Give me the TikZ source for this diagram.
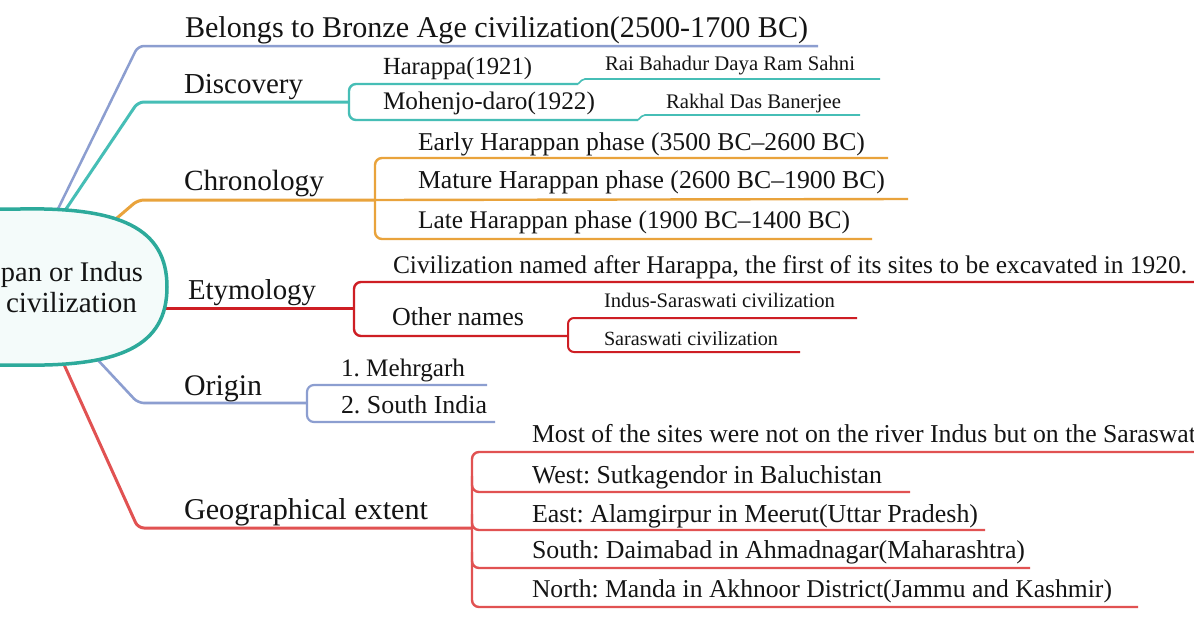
\documentclass[tikz,border=0pt]{standalone}
\usepackage{fontspec}
\setmainfont{Liberation Serif}
\usepackage{graphicx}
\frenchspacing
\definecolor{blueC}{RGB}{140,158,208}
\definecolor{tealC}{RGB}{70,190,182}
\definecolor{tealB}{RGB}{45,170,155}
\definecolor{orangeC}{RGB}{233,163,60}
\definecolor{etyC}{RGB}{206,30,36}
\definecolor{geoC}{RGB}{225,82,82}
\definecolor{txt}{RGB}{20,20,20}
\definecolor{fillC}{RGB}{244,251,250}
\newcommand{\fitw}[2]{\resizebox{#1pt}{!}{#2}}
\tikzset{
 lbl/.style={anchor=base west, inner sep=0pt, outer sep=0pt, text=txt},
 br/.style={line width=3pt, rounded corners=6pt},
 sub/.style={line width=2.4pt, rounded corners=7pt},
 leaf/.style={line width=1.6pt, rounded corners=2pt},
}
\begin{document}
\begin{tikzpicture}[x=1pt,y=-1pt]
\useasboundingbox (0,0) rectangle (1194,627);
\clip (0,0) rectangle (1194,627);
\fill[white] (0,0) rectangle (1194,627);

% ---------- Belongs (blue)
\coordinate (b0) at (55,215); \coordinate (b1) at (138,46); \coordinate (b2) at (818,46);
\draw[br, blueC, line width=2.5pt] (b0) -- (b1) -- (b2);

% ---------- Discovery (teal)
\coordinate (t0) at (62,215); \coordinate (t1) at (138,102); \coordinate (t2) at (349,102);
\coordinate (th) at (349,84); \coordinate (tm) at (349,120);
\coordinate (h0) at (578,84); \coordinate (h1) at (583,79); \coordinate (h2) at (880,79);
\coordinate (m0) at (638,120); \coordinate (m1) at (643,115); \coordinate (m2) at (860,115);
\draw[br, tealC] (t0) -- (t1) -- (t2);
\draw[sub, tealC] (h0) -- (th) -- (tm) -- (m0);
\draw[leaf, tealC] (h0) -- (h1) -- (h2);
\draw[leaf, tealC] (m0) -- (m1) -- (m2);

% ---------- Chronology (orange)
\coordinate (c0) at (110,224); \coordinate (c1) at (138,200); \coordinate (c2) at (375,200);
\coordinate (ct) at (375,158); \coordinate (cb) at (375,239);
\coordinate (ce) at (888,158); \coordinate (cm) at (908,199); \coordinate (cl) at (872,239);
\draw[br, orangeC] (c0) -- (c1) -- (c2);
\draw[sub, orangeC] (ce) -- (ct) -- (cb) -- (cl);
\draw[sub, orangeC] (c2) -- (cm);

% ---------- Etymology (dark red)
\coordinate (e0) at (160,308); \coordinate (e1) at (354,308);
\coordinate (et) at (354,282); \coordinate (eb) at (354,336);
\coordinate (ee) at (1200,282); \coordinate (eo) at (568,336);
\coordinate (st) at (568,318); \coordinate (sb) at (568,352);
\coordinate (se) at (857,318); \coordinate (ss) at (800,352);
\draw[br, etyC] (e0) -- (e1);
\draw[sub, etyC] (ee) -- (et) -- (eb) -- (eo);
\draw[leaf, etyC, line width=2pt, rounded corners=6pt] (se) -- (st) -- (sb) -- (ss);

% ---------- Origin (blue)
\coordinate (g0) at (96,358); \coordinate (g1) at (138,403); \coordinate (g2) at (307,403);
\coordinate (gt) at (307,385); \coordinate (gb) at (307,422);
\coordinate (ge) at (487,385); \coordinate (gs) at (495,422);
\draw[br, blueC, line width=2.6pt] (g0) -- (g1) -- (g2);
\draw[sub, blueC, line width=2.2pt] (ge) -- (gt) -- (gb) -- (gs);

% ---------- Geographical extent (light red)
\coordinate (x0) at (62,360); \coordinate (x1) at (138,528); \coordinate (x2) at (472,528);
\coordinate (xt) at (472,452); \coordinate (xb) at (472,607);
\coordinate (xe) at (1200,452); \coordinate (xn) at (1138,607);
\coordinate (xw) at (910,492); \coordinate (xa) at (985,530); \coordinate (xs) at (1030,568);
\draw[br, geoC] (x0) -- (x1) -- (x2);
\draw[sub, geoC] (xe) -- (xt) -- (xb) -- (xn);
\draw[sub, geoC] (472,476) -- (472,492) -- (xw);
\draw[sub, geoC] (472,514) -- (472,530) -- (xa);
\draw[sub, geoC] (472,552) -- (472,568) -- (xs);

% ---------- central topic
\filldraw[draw=tealB, fill=fillC, line width=3.5pt]
  (-100,209) -- (20,209) .. controls (120,207) and (167,228) .. (167,287)
  .. controls (167,346) and (120,367) .. (20,365) -- (-100,365) -- cycle;
\node[lbl] (root1) at (1,281) {\fitw{142}{pan or Indus}};
\node[lbl] (root2) at (6,312) {\fitw{131}{civilization}};

% ---------- labels
\node[lbl] (n1) at (185,37) {\fitw{623}{Belongs to Bronze Age civilization(2500-1700 BC)}};
\node[lbl] (n2) at (184,93) {\fitw{119}{Discovery}};
\node[lbl] (n3) at (383,74) {\fitw{149}{Harappa(1921)}};
\node[lbl] (n4) at (383,109) {\fitw{212}{Mohenjo-daro(1922)}};
\node[lbl] (n5) at (605,70) {\fitw{250}{Rai Bahadur Daya Ram Sahni}};
\node[lbl] (n6) at (666,108) {\fitw{175}{Rakhal Das Banerjee}};
\node[lbl] (n7) at (184,190) {\fitw{140}{Chronology}};
\node[lbl] (n8) at (418,150) {\fitw{447}{Early Harappan phase (3500 BC–2600 BC)}};
\node[lbl] (n9) at (418,188) {\fitw{467}{Mature Harappan phase (2600 BC–1900 BC)}};
\node[lbl] (n10) at (418,228) {\fitw{432}{Late Harappan phase (1900 BC–1400 BC)}};
\node[lbl] (n11) at (188,299) {\fitw{128}{Etymology}};
\node[lbl] (n12) at (393,273) {\fitw{794}{Civilization named after Harappa, the first of its sites to be excavated in 1920.}};
\node[lbl] (n13) at (392,325) {\fitw{132}{Other names}};
\node[lbl] (n14) at (604,307) {\fitw{231}{Indus-Saraswati civilization}};
\node[lbl] (n15) at (604,345) {\fitw{174}{Saraswati civilization}};
\node[lbl] (n16) at (184,395) {\fitw{78}{Origin}};
\node[lbl] (n17) at (341,376) {\fitw{124}{1. Mehrgarh}};
\node[lbl] (n18) at (341,413) {\fitw{146}{2. South India}};
\node[lbl] (n19) at (184,519) {\fitw{244}{Geographical extent}};
\node[lbl] (n20) at (532,442) {\fitw{664}{Most of the sites were not on the river Indus but on the Saraswat}};
\node[lbl] (n21) at (532,483) {\fitw{350}{West: Sutkagendor in Baluchistan}};
\node[lbl] (n22) at (532,522) {\fitw{446}{East: Alamgirpur in Meerut(Uttar Pradesh)}};
\node[lbl] (n23) at (532,558) {\fitw{493}{South: Daimabad in Ahmadnagar(Maharashtra)}};
\node[lbl] (n24) at (532,597) {\fitw{580}{North: Manda in Akhnoor District(Jammu and Kashmir)}};
\end{tikzpicture}
\end{document}
